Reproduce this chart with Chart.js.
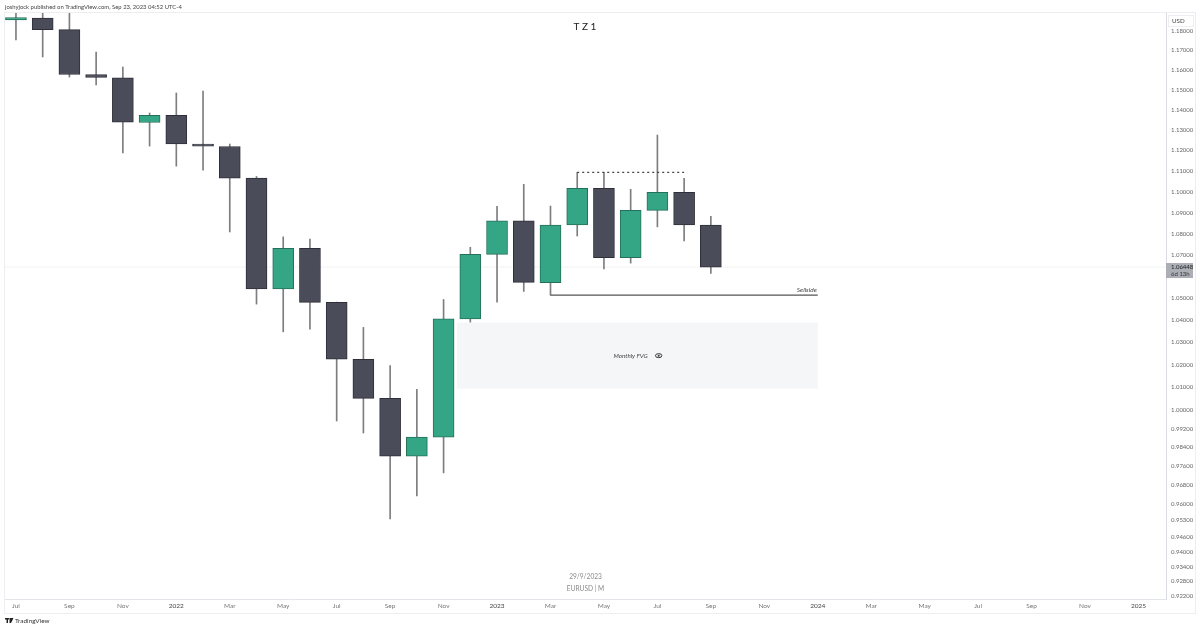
<!DOCTYPE html>
<html>
<head>
<meta charset="utf-8">
<title>EURUSD monthly</title>
<script src="https://cdn.jsdelivr.net/npm/chart.js@4"></script>
<style>
  html, body { margin: 0; padding: 0; background: #fff; }
  canvas { display: block; }
</style>
</head>
<body>
<canvas id="priceChart" width="1200" height="630"></canvas>
<script>
// Monthly candles, Jul 2021 to Sep 2023
const opens = [1.1857, 1.1867, 1.1807, 1.1578, 1.1561, 1.1338, 1.1373, 1.1232, 1.1220, 1.1066, 1.0544, 1.0732, 1.0482, 1.0225, 1.0052, 0.9801, 0.9883, 1.0407, 1.0704, 1.0862, 1.0572, 1.0842, 1.1017, 1.0688, 1.0911, 1.0998, 1.0842];
const closes = [1.1869, 1.1807, 1.1578, 1.1563, 1.1340, 1.1373, 1.1232, 1.1222, 1.1066, 1.0544, 1.0732, 1.0482, 1.0225, 1.0052, 0.9801, 0.9883, 1.0407, 1.0704, 1.0862, 1.0574, 1.0842, 1.1017, 1.0688, 1.0911, 1.0998, 1.0842, 1.0644];
const highs = [1.1908, 1.1910, 1.1910, 1.1692, 1.1615, 1.1385, 1.1485, 1.1495, 1.1232, 1.1074, 1.0786, 1.0776, 1.0483, 1.0368, 1.0197, 1.0092, 1.0495, 1.0737, 1.0931, 1.1036, 1.0932, 1.1094, 1.1094, 1.1012, 1.1276, 1.1065, 1.0883];
const lows = [1.1754, 1.1667, 1.1565, 1.1525, 1.1188, 1.1222, 1.1124, 1.1105, 1.0809, 1.0474, 1.0348, 1.0360, 0.9953, 0.9901, 0.9537, 0.9633, 0.9730, 1.0392, 1.0483, 1.0532, 1.0515, 1.0790, 1.0636, 1.0663, 1.0833, 1.0767, 1.0615];

const priceTicks = [1.18, 1.17, 1.16, 1.15, 1.14, 1.13, 1.12, 1.11, 1.10, 1.09, 1.08, 1.07, 1.05, 1.04, 1.03, 1.02, 1.01, 1.00, 0.992, 0.984, 0.976, 0.968, 0.96, 0.953, 0.946, 0.94, 0.934, 0.928, 0.922];
const timeTicks = [0, 2, 4, 6, 8, 10, 12, 14, 16, 18, 20, 22, 24, 26, 28, 30, 32, 34, 36, 38, 40, 42];
const timeLabels = ["Jul", "Sep", "Nov", "2022", "Mar", "May", "Jul", "Sep", "Nov", "2023", "Mar", "May", "Jul", "Sep", "Nov", "2024", "Mar", "May", "Jul", "Sep", "Nov", "2025"];

// Drawn levels
const lastPrice = [1.06448];
const sellside = [1.0515];
const sellsideSpan = [20, 30];
const equalHighs = [1.1094];
const equalHighsSpan = [21, 25];
const fvgPrices = [1.0390, 1.0094];
const fvgSpan = [16.5, 30];

const green = "#35a685";
const greenEdge = "#24705a";
const dark = "#4a4c59";
const darkEdge = "#2e2f38";
const font = "Lato";

function text(ctx, str, x, y, size, color, align, style) {
  ctx.font = (style || "") + " " + size + "px " + font;
  ctx.fillStyle = color;
  ctx.textAlign = align || "left";
  ctx.textBaseline = "middle";
  ctx.fillText(str, x, y);
}

// FVG box goes under the candles
const boxPlugin = {
  id: "fvgBox",
  beforeDatasetsDraw(chart) {
    const { ctx, scales } = chart;
    const x0 = scales.x.getPixelForValue(fvgSpan[0]);
    const x1 = scales.x.getPixelForValue(fvgSpan[1]);
    const y0 = scales.y.getPixelForValue(fvgPrices[0]);
    const y1 = scales.y.getPixelForValue(fvgPrices[1]);
    ctx.save();
    ctx.fillStyle = "#f5f6f8";
    ctx.fillRect(x0, y0, x1 - x0, y1 - y0);
    ctx.restore();
  },
};

// Frame, header, notes and price tag
const notesPlugin = {
  id: "notes",
  afterDraw(chart) {
    const { ctx, scales, chartArea } = chart;
    ctx.save();

    ctx.strokeStyle = "#eceef1";
    ctx.lineWidth = 1;
    ctx.strokeRect(4.5, 12.5, 1191, 601);

    text(ctx, "joshyjock published on TradingView.com, Sep 23, 2023 04:52 UTC-4", 5, 7, 5.9, "#444");
    text(ctx, "T Z 1", 585, 26.5, 10, "#222", "center");
    text(ctx, "29/9/2023", 585.5, 577, 6.6, "#8a8a8a", "center");
    text(ctx, "EURUSD | M", 585.5, 589, 6.6, "#8a8a8a", "center");

    const fvgX = scales.x.getPixelForValue(fvgSpan[0] + 6.5);
    const fvgY = (scales.y.getPixelForValue(fvgPrices[0]) + scales.y.getPixelForValue(fvgPrices[1])) / 2;
    text(ctx, "Monthly FVG", fvgX, fvgY, 6.2, "#444", "center", "italic");

    // eye icon
    const eyeX = fvgX + 28;
    ctx.strokeStyle = "#333";
    ctx.lineWidth = 1;
    ctx.beginPath();
    ctx.ellipse(eyeX, fvgY, 3.2, 2, 0, 0, Math.PI * 2);
    ctx.stroke();
    ctx.fillStyle = "#333";
    ctx.beginPath();
    ctx.arc(eyeX, fvgY, 1, 0, Math.PI * 2);
    ctx.fill();

    const sellX = scales.x.getPixelForValue(sellsideSpan[1]);
    const sellY = scales.y.getPixelForValue(sellside[0]);
    text(ctx, "Sellside", sellX - 1, sellY - 5, 6.5, "#444", "right", "italic");

    // USD box
    ctx.fillStyle = "#fff";
    ctx.strokeStyle = "#eceef1";
    ctx.fillRect(1168, 15, 25, 11);
    ctx.strokeRect(1168.5, 15.5, 25, 11);
    text(ctx, "USD", 1172, 21, 6.2, "#444");

    // last price tag
    const tagY = scales.y.getPixelForValue(lastPrice[0]);
    ctx.fillStyle = "#acaeb6";
    ctx.fillRect(chartArea.right, tagY - 4, 27, 15);
    text(ctx, "1.06448", 1171, tagY, 6, "#222");
    text(ctx, "6d 13h", 1171, tagY + 7, 6, "#333");

    // logo
    ctx.fillStyle = "#222";
    ctx.fillRect(5, 618, 4, 1.5);
    ctx.fillRect(6.5, 618, 1.5, 5);
    ctx.beginPath();
    ctx.moveTo(9.5, 618);
    ctx.lineTo(13.5, 618);
    ctx.lineTo(11, 623);
    ctx.lineTo(9.5, 623);
    ctx.fill();
    text(ctx, "TradingView", 15, 621, 6.4, "#333");

    ctx.restore();
  },
};

const candleIdx = opens.map((_, i) => i);

const chartCtx = document.getElementById("priceChart").getContext("2d");
new Chart(chartCtx, {
  data: {
    datasets: [
      {
        type: "line",
        data: [{ x: -1, y: lastPrice[0] }, { x: 44, y: lastPrice[0] }],
        borderColor: "#e4e5e8",
        borderWidth: 1,
        borderDash: [1, 1],
        pointRadius: 0,
        order: 5,
      },
      {
        type: "bar",
        data: candleIdx.map((i) => ({ x: i, y: [lows[i], highs[i]] })),
        backgroundColor: "#7d7e82",
        barThickness: 1,
        grouped: false,
        order: 3,
      },
      {
        type: "bar",
        data: candleIdx.map((i) => ({ x: i, y: [opens[i], closes[i]] })),
        backgroundColor: candleIdx.map((i) => (closes[i] >= opens[i] ? green : dark)),
        borderColor: candleIdx.map((i) => (closes[i] >= opens[i] ? greenEdge : darkEdge)),
        borderWidth: 1,
        borderSkipped: false,
        barThickness: 21,
        grouped: false,
        order: 2,
      },
      {
        type: "line",
        data: sellsideSpan.map((x) => ({ x: x, y: sellside[0] })),
        borderColor: "#555",
        borderWidth: 1.2,
        pointRadius: 0,
        order: 1,
      },
      {
        type: "line",
        data: equalHighsSpan.map((x) => ({ x: x, y: equalHighs[0] })),
        borderColor: "#444",
        borderWidth: 1.2,
        borderDash: [2, 3],
        pointRadius: 0,
        order: 1,
      },
    ],
  },
  options: {
    responsive: false,
    animation: false,
    events: [],
    layout: { padding: { left: 5, top: 13, right: 5, bottom: 17 } },
    plugins: {
      legend: { display: false },
      title: { display: false },
      tooltip: { enabled: false },
    },
    scales: {
      x: {
        type: "linear",
        offset: false,
        min: -0.41,
        max: 43.03,
        afterBuildTicks: (axis) => {
          axis.ticks = timeTicks.map((v) => ({ value: v }));
        },
        afterFit: (axis) => {
          axis.height = 14;
        },
        grid: { display: false, drawTicks: false, offset: false },
        border: { display: true, color: "#e3e5ea" },
        ticks: {
          autoSkip: false,
          maxRotation: 0,
          padding: 3,
          font: { family: font, size: 6.5 },
          color: (c) => (c.index === 3 || c.index === 9 || c.index === 15 || c.index === 21 ? "#444" : "#777"),
          callback: (v, i) => timeLabels[i],
        },
      },
      y: {
        type: "logarithmic",
        position: "right",
        bounds: "data",
        min: 0.9209,
        max: 1.1893,
        afterBuildTicks: (axis) => {
          axis.ticks = priceTicks.map((v) => ({ value: v }));
        },
        afterFit: (axis) => {
          axis.width = 29;
        },
        grid: { display: false, drawTicks: false },
        border: { display: true, color: "#d9dce3" },
        ticks: {
          autoSkip: false,
          padding: 5,
          font: { family: font, size: 6 },
          color: "#666",
          callback: (v) => Number(v).toFixed(5),
        },
      },
    },
  },
  plugins: [boxPlugin, notesPlugin],
});
</script>
</body>
</html>
